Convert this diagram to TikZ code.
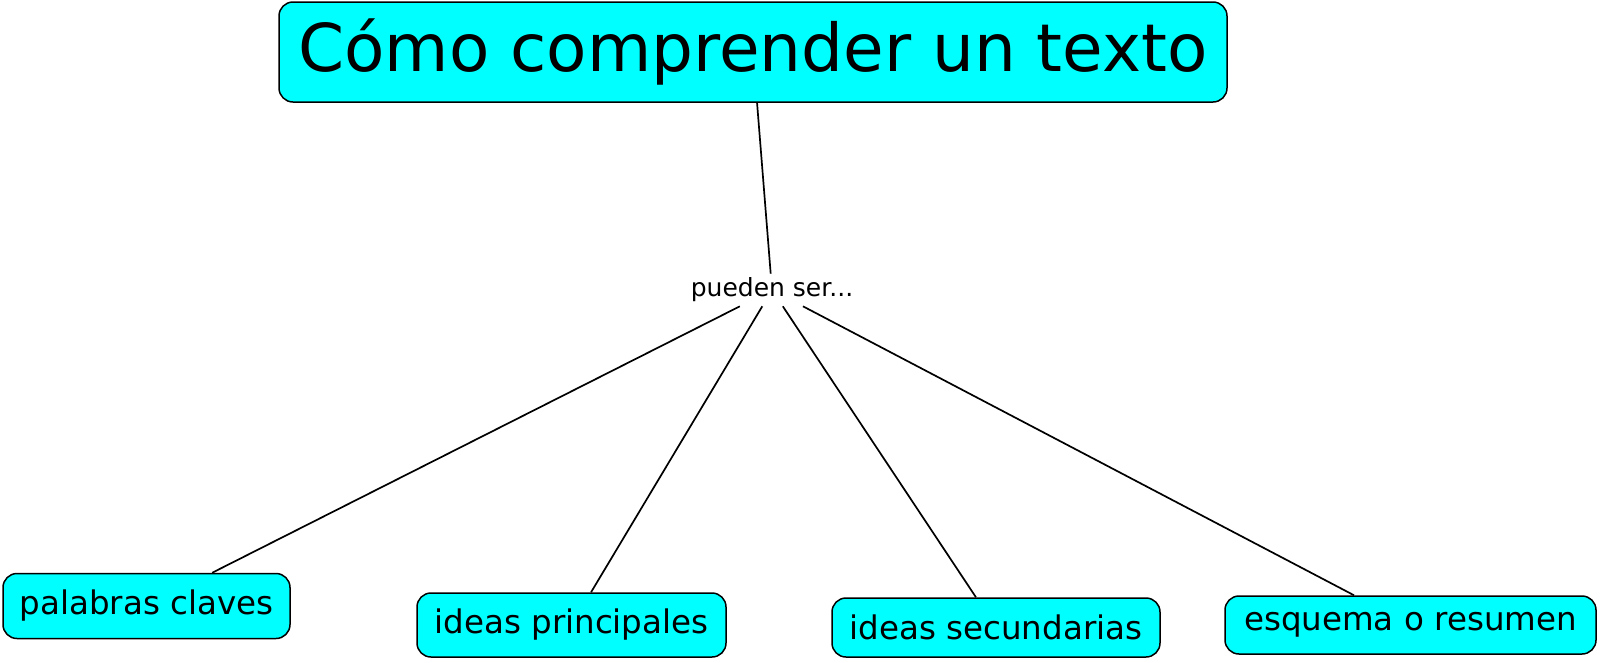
\documentclass[tikz,border=0pt]{standalone}
\usepackage{fontspec}
\setmainfont{DejaVu Sans}
\definecolor{boxcyan}{RGB}{0,255,255}
\begin{document}
\begin{tikzpicture}[x=1pt,y=-1pt,
  box/.style={draw=black, line width=1.5pt, fill=boxcyan, rounded corners=14pt, inner sep=0pt, text=black},
  small/.style={box, font=\fontsize{32.5}{36}\selectfont},
  linkphrase/.style={inner sep=4pt, text=black, font=\fontsize{25}{29}\selectfont},
  conn/.style={draw=black, line width=1.7pt}]
\fill[white] (0,0) rectangle (1600,662);
\useasboundingbox (0,0) rectangle (1600,662);
\node[box, minimum width=948pt, minimum height=100pt, font=\fontsize{66}{72}\selectfont] (title) at (753,52) {Cómo comprender un texto};
\node[linkphrase] (link) at (772,290) {pueden ser...};
\node[small, minimum width=287pt, minimum height=65pt] (pal) at (146.5,606) {palabras claves};
\node[small, minimum width=309pt, minimum height=64pt] (prin) at (571.5,625) {ideas principales};
\node[small, minimum width=328pt, minimum height=59pt] (sec) at (996,627.5) {ideas secundarias};
\node[small, minimum width=371pt, minimum height=58pt] (esq) at (1410.5,625) {esquema o resumen};
\draw[conn] (title) -- (link);
\draw[conn] (link) -- (pal);
\draw[conn] (link) -- (prin);
\draw[conn] (link) -- (sec);
\draw[conn] (link) -- (esq);
\end{tikzpicture}
\end{document}
